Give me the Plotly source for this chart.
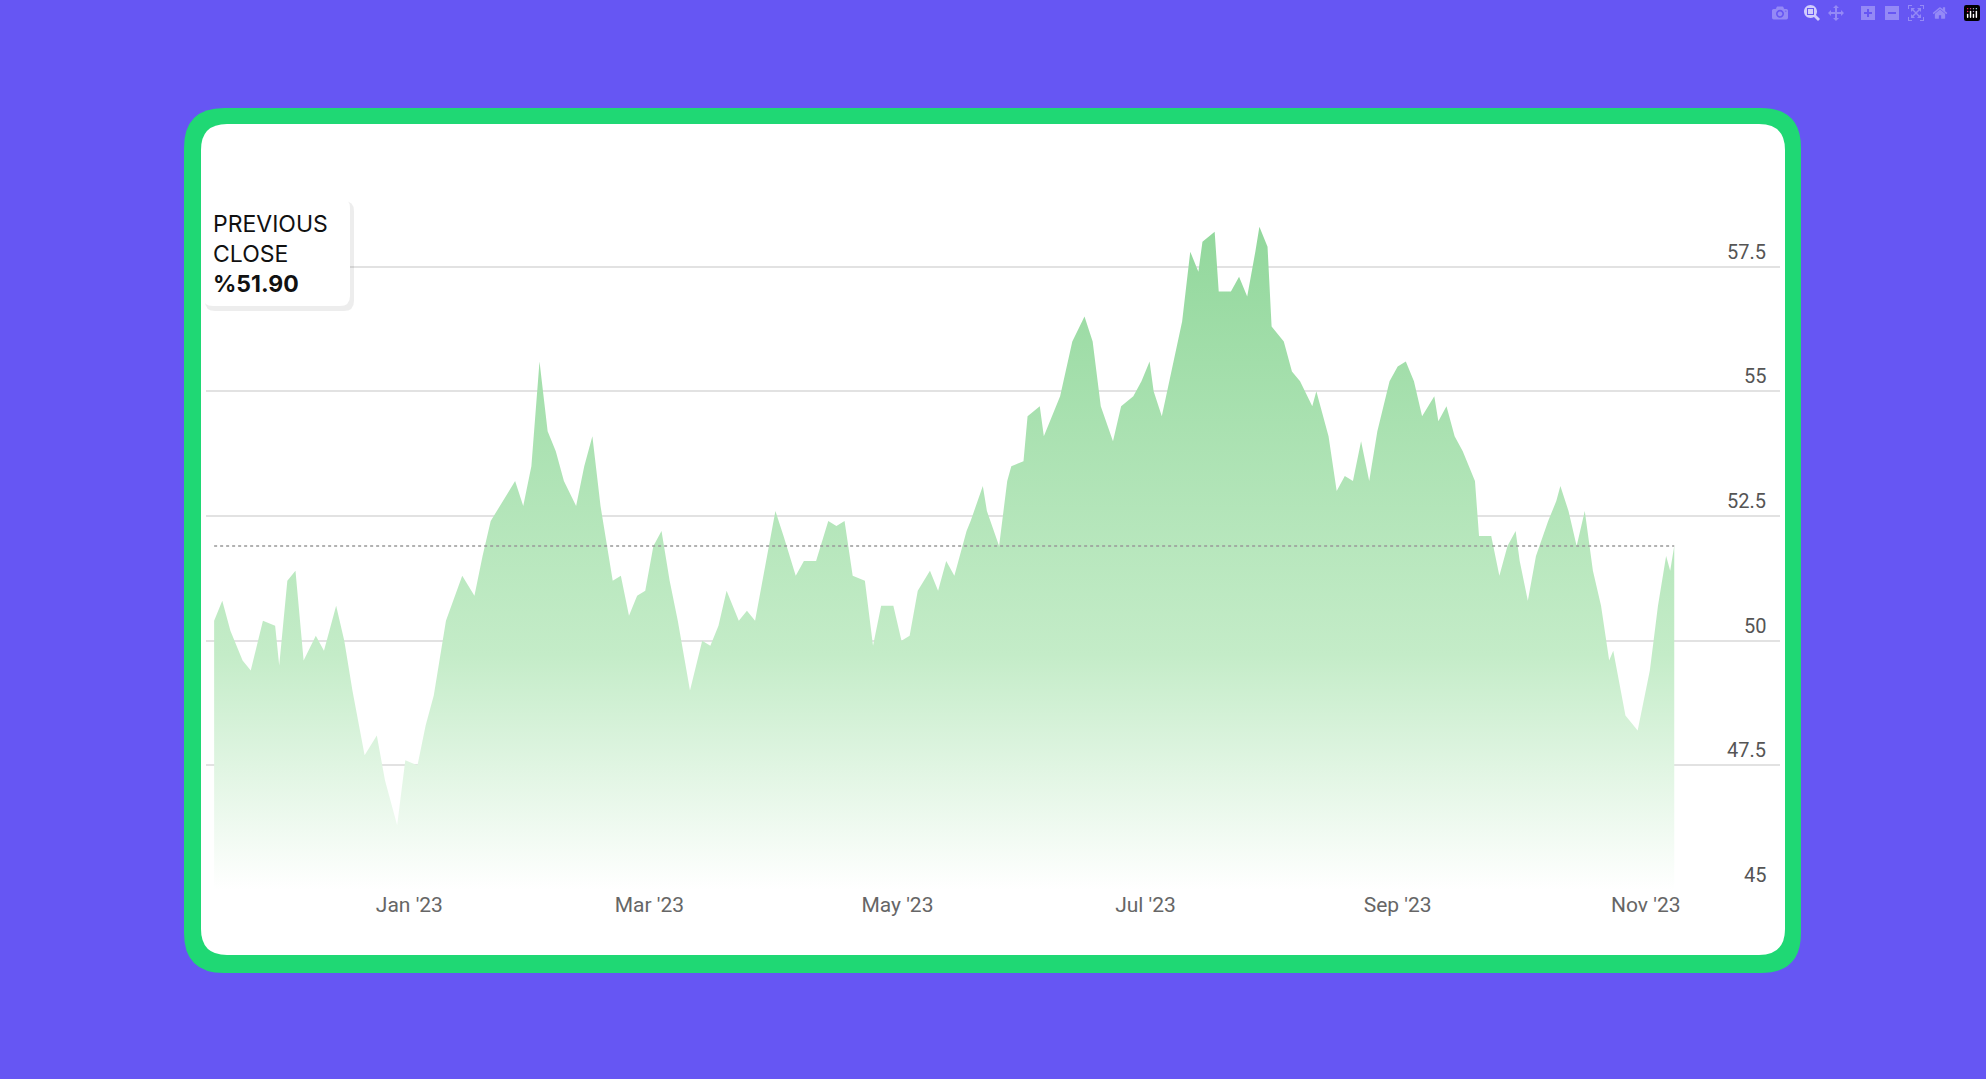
import plotly.graph_objects as go
import pandas as pd

# days from 2023-01-01 and price values
day_offsets = [-48,-46,-44,-41,-39,-36,-33,-32,-30,-28,-26,-23,-21,-18,-16,-14,-11,-8,-6,-3,-1,2,4,6,9,13,16,18,20,23,26,28,30,32,34,36,38,41,43,45,47,50,52,54,56,58,60,62,64,66,69,72,74,76,78,81,83,85,88,90,92,95,97,100,103,105,107,109,112,114,116,119,121,123,125,128,130,132,134,137,138,141,142,145,147,148,151,152,155,156,158,160,163,166,168,170,173,175,178,180,182,183,185,188,190,192,194,195,198,199,202,204,206,208,209,211,212,215,217,219,222,223,226,228,230,232,234,236,238,241,243,245,247,249,252,253,255,257,259,262,263,266,268,270,272,273,275,277,280,282,283,285,287,289,291,293,295,296,298,299,302,303,305,307,309,310,311]
values = [50.4,50.8,50.2,49.6,49.4,50.4,50.3,49.5,51.2,51.4,49.6,50.1,49.8,50.7,50.0,49.0,47.7,48.1,47.2,46.3,47.6,47.5,48.3,48.9,50.4,51.3,50.9,51.7,52.4,52.8,53.2,52.7,53.5,55.6,54.2,53.8,53.2,52.7,53.5,54.1,52.7,51.2,51.3,50.5,50.9,51.0,51.9,52.2,51.2,50.4,49.0,50.0,49.9,50.3,51.0,50.4,50.6,50.4,51.7,52.6,52.1,51.3,51.6,51.6,52.4,52.3,52.4,51.3,51.2,49.9,50.7,50.7,50.0,50.1,51.0,51.4,51.0,51.6,51.3,52.2,52.4,53.1,52.6,51.9,53.2,53.5,53.6,54.5,54.7,54.1,54.5,54.9,56.0,56.5,56.0,54.7,54.0,54.7,54.9,55.2,55.6,55.0,54.5,55.6,56.4,57.8,57.4,58.0,58.2,57.0,57.0,57.3,56.9,57.8,58.3,57.9,56.3,56.0,55.4,55.2,54.7,55.0,54.1,53.0,53.3,53.2,54.0,53.2,54.2,55.2,55.5,55.6,55.2,54.5,54.9,54.4,54.7,54.1,53.8,53.2,52.1,52.1,51.3,51.9,52.2,51.6,50.8,51.7,52.4,52.8,53.1,52.6,51.9,52.6,51.4,50.7,49.6,49.8,48.9,48.5,48.2,48.6,49.4,50.7,51.7,51.4,51.9]
prev_close = 51.90
y_ticks = [45, 47.5, 50, 52.5, 55, 57.5]
x_tick_dates = ["2023-01-01","2023-03-01","2023-05-01","2023-07-01","2023-09-01","2023-11-01"]
x_tick_labels = ["Jan '23","Mar '23","May '23","Jul '23","Sep '23","Nov '23"]

base = pd.Timestamp("2023-01-01")
dates = [base + pd.Timedelta(days=d) for d in day_offsets]

W, H = 1986, 1079
L, R, T, B = 206, 1780, 142, 890
def px(x): return (x - L) / (R - L)
def py(y): return (B - y) / (B - T)

fig = go.Figure()
fig.add_trace(go.Scatter(
    x=dates, y=values, mode="lines", line=dict(width=0, color="rgba(0,0,0,0)"),
    fill="tozeroy",
    fillgradient=dict(type="vertical", start=45, stop=58.5,
                      colorscale=[[0, "rgba(255,255,255,1)"], [0.35, "rgb(196,236,200)"], [1, "rgb(145,215,155)"]]),
    hoverinfo="skip", showlegend=False))
fig.add_trace(go.Scatter(
    x=[dates[0], dates[-1]], y=[prev_close, prev_close], mode="lines",
    line=dict(color="#999", width=1.5, dash="dot"), showlegend=False, hoverinfo="skip"))

def path_px(x0, y0, x1, y1, r):
    X0, X1 = px(x0), px(x1)
    Y0, Y1 = py(y1), py(y0)
    rx = r / (R - L); ry = r / (B - T)
    return (f"M{X0+rx},{Y0} L{X1-rx},{Y0} Q{X1},{Y0} {X1},{Y0+ry} L{X1},{Y1-ry} Q{X1},{Y1} {X1-rx},{Y1} "
            f"L{X0+rx},{Y1} Q{X0},{Y1} {X0},{Y1-ry} L{X0},{Y0+ry} Q{X0},{Y0} {X0+rx},{Y0} Z")

shapes = [
    dict(type="path", xref="paper", yref="paper", path=path_px(184, 108, 1801, 973, 40),
         fillcolor="#1FD874", line=dict(width=0), layer="below"),
    dict(type="path", xref="paper", yref="paper", path=path_px(201, 124, 1785, 955, 26),
         fillcolor="white", line=dict(width=0), layer="below"),
    dict(type="path", xref="paper", yref="paper", path=path_px(205, 201, 354, 311, 10),
         fillcolor="rgba(0,0,0,0.07)", line=dict(width=0)),
    dict(type="path", xref="paper", yref="paper", path=path_px(203, 198, 350, 306, 10),
         fillcolor="white", line=dict(width=0)),
]

annotations = [dict(xref="paper", yref="y", x=px(1768), y=v, text=(f"{v:g}"), showarrow=False,
                    xanchor="right", yanchor="bottom", yshift=1, font=dict(size=20, color="#555", family="Roboto"))
               for v in y_ticks]
annotations.append(dict(xref="paper", yref="paper", x=px(211), y=py(208), xanchor="left", yanchor="top",
                        showarrow=False, align="left",
                        text="PREVIOUS<br>CLOSE<br><b>%51.90</b>",
                        font=dict(size=23, color="#111", family="Inter")))

fig.update_layout(
    width=W, height=H, margin=dict(l=L, r=W - R, t=T, b=H - B),
    paper_bgcolor="#6656F3", plot_bgcolor="rgba(0,0,0,0)",
    shapes=shapes, annotations=annotations,
    xaxis=dict(range=[base + pd.Timedelta(days=-50), base + pd.Timedelta(days=337)],
               tickvals=x_tick_dates, ticktext=x_tick_labels, showgrid=False, zeroline=False,
               showline=False, ticks="", tickfont=dict(size=21, color="#666", family="Roboto")),
    yaxis=dict(range=[45, 60], tickvals=y_ticks + [60], showticklabels=False,
               gridcolor="#e2e2e2", gridwidth=1.5, zeroline=False),
)
fig.write_html("out.html", post_script="document.body.style.margin='0';document.body.style.background='#6656F3';")
